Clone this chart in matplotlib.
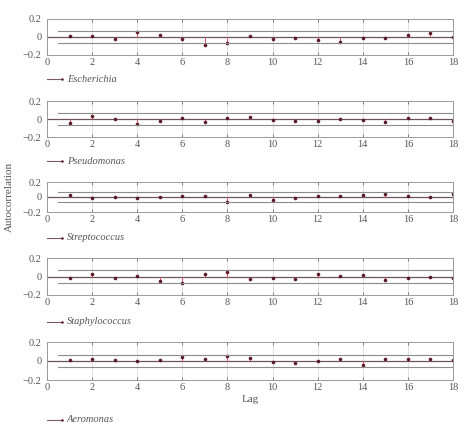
import matplotlib
matplotlib.use("Agg")
import matplotlib.pyplot as plt
from matplotlib.lines import Line2D
import numpy as np

lags = list(range(1, 19))
genera = ["Escherichia", "Pseudomonas", "Streptococcus", "Staphylococcus", "Aeromonas"]

escherichia = [0.01, 0.015, -0.02, 0.06, 0.025, -0.025, -0.085, -0.07, 0.015,
               -0.02, -0.015, -0.035, -0.055, -0.012, -0.012, 0.022, 0.048, -0.003]
pseudomonas = [-0.04, 0.03, -0.004, -0.05, -0.022, 0.012, -0.033, 0.012, 0.022,
               -0.012, -0.018, -0.025, 0.0, -0.01, -0.03, 0.015, 0.012, -0.022]
streptococcus = [0.027, -0.018, -0.005, -0.018, -0.005, 0.018, 0.018, -0.062, 0.03,
                 -0.04, -0.009, 0.009, 0.013, 0.027, 0.035, 0.013, -0.005, 0.04]
staphylococcus = [-0.014, 0.03, -0.02, 0.01, -0.052, -0.065, 0.03, 0.048, -0.028,
                  -0.017, -0.028, 0.028, 0.007, 0.02, -0.038, -0.017, -0.003, -0.014]
aeromonas = [0.013, 0.023, 0.013, 0.003, 0.01, 0.046, 0.023, 0.056, 0.033,
             -0.007, -0.026, 0.003, 0.026, -0.04, 0.016, 0.016, 0.02, 0.007]
series = [escherichia, pseudomonas, streptococcus, staphylococcus, aeromonas]
bounds = [0.065, 0.065, 0.065, 0.066, 0.064]

xticks = [0, 2, 4, 6, 8, 10, 12, 14, 16, 18]
yticks = [-0.2, 0, 0.2]
yticklabels = ["\u22120.2", "0", "0.2"]

plt.rcParams['font.family'] = ['Liberation Serif', 'DejaVu Serif']
W, H = 474, 438
fig = plt.figure(figsize=(W / 100, H / 100), dpi=100)

# (top_px, bottom_px) of each panel, legend y in px
panels = [(19, 55, 79), (101, 137, 161), (182, 212, 238), (258, 295, 322), (342, 380, 420)]
left_px, right_px = 47, 453
txt = '#555555'
frame = '#9a9a9a'

for i, (vals, name, (top, bot, legy)) in enumerate(zip(series, genera, panels)):
    ax = fig.add_axes([left_px / W, 1 - bot / H, (right_px - left_px) / W, (bot - top) / H])
    ml, sl, bl = ax.stem(lags, vals, linefmt='-', markerfmt='o', basefmt=' ')
    plt.setp(sl, color='#e85060', linewidth=0.7)
    plt.setp(ml, color='#5a1a28', markersize=2.6, markeredgewidth=0)
    ax.axhline(0, color='#6e5458', lw=0.9, zorder=1)
    ax.plot([0.5, 18], [bounds[i], bounds[i]], color='#8c8c8c', lw=0.8)
    ax.plot([0.5, 18], [-bounds[i], -bounds[i]], color='#8c8c8c', lw=0.8)
    ax.set_xlim(0, 18)
    ax.set_ylim(-0.2, 0.2)
    ax.set_xticks(xticks)
    ax.set_yticks(yticks)
    ax.set_yticklabels(yticklabels)
    ax.grid(axis='x', color='#dcdcdc', lw=0.6)
    ax.set_axisbelow(True)
    ax.tick_params(axis='both', labelsize=7.5, colors=txt, length=2.5, width=0.5,
                   direction='in', top=True, right=False, pad=2.5)
    ax.tick_params(axis='y', length=0, pad=4)
    for s in ax.spines.values():
        s.set_color(frame)
        s.set_linewidth(0.7)
    if i == 4:
        ax.set_xlabel('Lag', fontsize=8, color=txt, labelpad=2)
    if i == 2:
        ax.set_ylabel('Autocorrelation', fontsize=8, color=txt, labelpad=6)
    # legend-like key below panel
    ly = 1 - legy / H
    fig.add_artist(Line2D([47 / W, 62 / W], [ly, ly], color='#7a5a5e', lw=0.8))
    fig.add_artist(Line2D([62 / W], [ly], color='#5a1a28', marker='o', markersize=1.8,
                          markeredgewidth=0, lw=0))
    fig.text(67 / W, ly, name, fontsize=7.5, style='italic', color=txt, va='center', ha='left')

fig.savefig('out.png', dpi=100)
